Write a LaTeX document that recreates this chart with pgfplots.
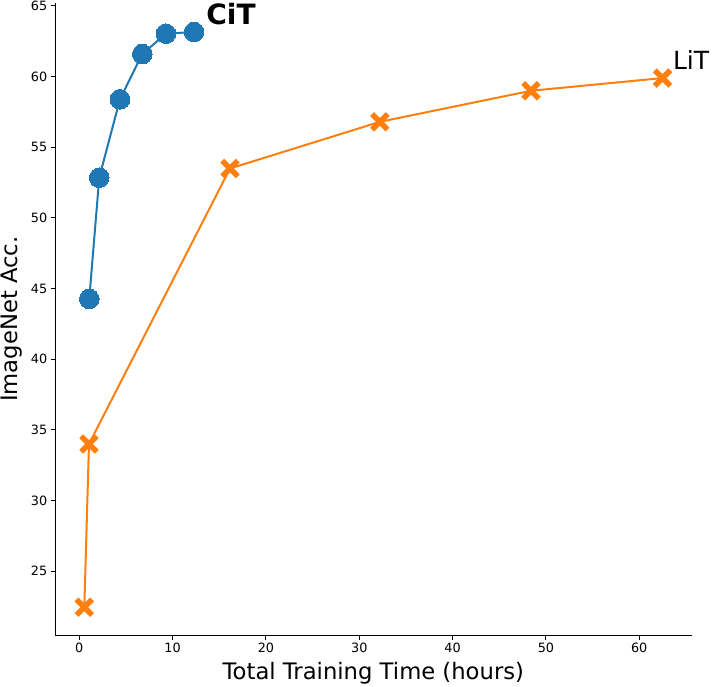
\documentclass[border=0pt]{standalone}
\usepackage{pgfplots}
\pgfplotsset{compat=1.18}
\usepackage{fontspec}
\setmainfont{DejaVu Sans}
\definecolor{tabblue}{HTML}{1F77B4}
\definecolor{taborange}{HTML}{FF7F0E}
\begin{document}
\begin{tikzpicture}
\useasboundingbox (-55.2bp,-51.8bp) rectangle (660.8bp,635.2bp);
\begin{axis}[
  at={(0,0)}, anchor=south west,
  scale only axis, width=636.3bp, height=631.9bp,
  xmin=-2.58, xmax=65.6, ymin=20.47, ymax=65.19,
  axis x line*=bottom, axis y line*=left,
  axis line style={line width=1bp, -},
  xtick={0,10,...,60}, ytick={25,30,...,65},
  tick align=outside, major tick length=4.5bp,
  tick style={line width=1bp, black},
  ticklabel style={font=\fontsize{12.8bp}{15bp}\selectfont},
  /pgf/number format/assume math mode=true,
  xlabel={Total Training Time (hours)},
  ylabel={ImageNet Acc.},
  label style={font=\fontsize{22.7bp}{26bp}\selectfont},
  xlabel style={at={([yshift=-44.1bp]rel axis cs:0.5,0)}, anchor=base, inner sep=0pt},
  ylabel style={at={([xshift=-37.8bp]rel axis cs:0,0.5)}, anchor=base, inner sep=0pt},
  clip=false,
]
\addplot[color=tabblue, line width=2bp, mark=*, mark size=9.8bp,
  mark options={fill=tabblue, draw=tabblue, line width=0pt}] coordinates {
  (1.07,44.27) (2.14,52.85) (4.36,58.4) (6.75,61.6) (9.29,63.04) (12.3,63.16)
};
\addplot[color=taborange, line width=2bp, mark=x, mark size=11bp,
  mark options={line width=5.5bp}] coordinates {
  (0.54,22.45) (1.04,34.0) (16.15,53.5) (32.2,56.8) (48.4,59.0) (62.5,59.9)
};
\node[anchor=base west, inner sep=0pt, font=\fontsize{28bp}{32bp}\selectfont\bfseries] at (axis cs:13.6,63.66) {CiT};
\node[anchor=base west, inner sep=0pt, font=\fontsize{25bp}{29bp}\selectfont] at (axis cs:63.6,60.47) {LiT};
\end{axis}
\end{tikzpicture}
\end{document}
